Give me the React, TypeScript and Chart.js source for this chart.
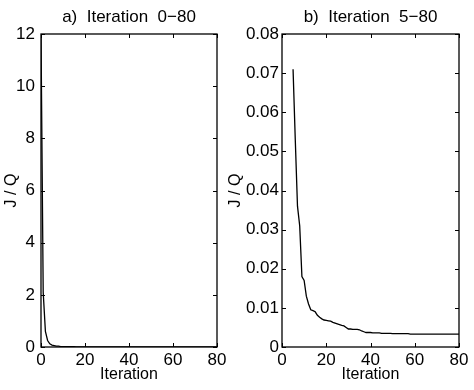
import React, { useEffect, useRef } from "react";
import { Chart, registerables } from "chart.js";

Chart.register(...registerables);

// ---- data ----
const iterations = [
  0, 1, 2, 3, 4, 5, 6, 7, 8, 9, 10, 11, 12, 13, 14, 15, 16, 17, 18, 19, 20,
  21, 22, 23, 24, 25, 26, 27, 28, 29, 30, 31, 32, 33, 34, 35, 36, 37, 38, 39, 40,
  41, 42, 43, 44, 45, 46, 47, 48, 49, 50, 51, 52, 53, 54, 55, 56, 57, 58, 59, 60,
  61, 62, 63, 64, 65, 66, 67, 68, 69, 70, 71, 72, 73, 74, 75, 76, 77, 78, 79, 80,
];
const jOverQ = [
  12, 2.1, 0.6, 0.25, 0.12, 0.071, 0.053, 0.036, 0.031, 0.018, 0.017,
  0.013, 0.011, 0.0095, 0.0093, 0.009, 0.0081, 0.0076, 0.0072, 0.0069, 0.0068,
  0.0067, 0.0066, 0.0063, 0.0061, 0.0059, 0.0057, 0.0055, 0.0054, 0.005, 0.0046,
  0.0046, 0.0045, 0.0045, 0.0045, 0.0044, 0.0041, 0.0039, 0.0037, 0.0037, 0.0037,
  0.0036, 0.0036, 0.0036, 0.0036, 0.0035, 0.0035, 0.0035, 0.0035, 0.0035, 0.0034,
  0.0034, 0.0034, 0.0034, 0.0034, 0.0034, 0.0034, 0.0034, 0.0033, 0.0033, 0.0033,
  0.0033, 0.0033, 0.0033, 0.0033, 0.0033, 0.0033, 0.0033, 0.0033, 0.0033, 0.0033,
  0.0033, 0.0033, 0.0033, 0.0033, 0.0033, 0.0033, 0.0033, 0.0033, 0.0033, 0.0033,
];
const startB = 5;

const xTicks = [0, 20, 40, 60, 80];
const yTicksA = [0, 2, 4, 6, 8, 10, 12];
const yTickLabelsA = ["0", "2", "4", "6", "8", "10", "12"];
const yTicksB = [0, 0.01, 0.02, 0.03, 0.04, 0.05, 0.06, 0.07, 0.08];
const yTickLabelsB = ["0", "0.01", "0.02", "0.03", "0.04", "0.05", "0.06", "0.07", "0.08"];

const titleA = "a)  Iteration  0\u221280";
const titleB = "b)  Iteration  5\u221280";
const xLabel = "Iteration";
const yLabel = "J / Q";

const FONT = "'Liberation Sans', Arial, Helvetica, sans-serif";

const boxPlugin = {
  id: "matlabBox",
  afterDraw(chart: any, _args: any, opts: any) {
    const { ctx, chartArea } = chart;
    const { left, right, top, bottom } = chartArea;
    ctx.save();
    ctx.strokeStyle = "#000";
    ctx.lineWidth = 1.3;
    ctx.strokeRect(left, top, right - left, bottom - top);
    const tl = 4;
    const xs = chart.scales.x;
    const ys = chart.scales.y;
    ctx.beginPath();
    xs.ticks.forEach((t: any) => {
      const px = Math.round(xs.getPixelForValue(t.value)) + 0.5;
      ctx.moveTo(px, bottom);
      ctx.lineTo(px, bottom - tl);
      ctx.moveTo(px, top);
      ctx.lineTo(px, top + tl);
    });
    ys.ticks.forEach((t: any) => {
      const py = Math.round(ys.getPixelForValue(t.value)) + 0.5;
      ctx.moveTo(left, py);
      ctx.lineTo(left + tl, py);
      ctx.moveTo(right, py);
      ctx.lineTo(right - tl, py);
    });
    ctx.lineWidth = 1;
    ctx.stroke();
    // panel title
    ctx.fillStyle = "#000";
    ctx.font = `17px ${FONT}`;
    ctx.textAlign = "center";
    ctx.textBaseline = "middle";
    ctx.fillText(opts.text, (left + right) / 2, 17);
    ctx.restore();
  },
};

type PanelProps = {
  left: number;
  width: number;
  yWidth: number;
  padRight: number;
  xs: number[];
  ys: number[];
  yMax: number;
  yTicks: number[];
  yTickLabels: string[];
  yTickPad: number;
  yTitlePad: number;
  title: string;
};

function Panel(p: PanelProps) {
  const ref = useRef<HTMLCanvasElement | null>(null);
  useEffect(() => {
    if (!ref.current) return;
    const chart = new Chart(ref.current, {
      type: "line",
      data: {
        datasets: [
          {
            data: p.xs.map((x, i) => ({ x, y: p.ys[i] })),
            borderColor: "#000",
            borderWidth: 1.3,
            pointRadius: 0,
            tension: 0,
            fill: false,
          },
        ],
      },
      options: {
        responsive: false,
        animation: false,
        layout: { padding: { left: 0, right: p.padRight, top: 34, bottom: 0 } },
        plugins: {
          legend: { display: false },
          tooltip: { enabled: false },
          matlabBox: { text: p.title },
        } as any,
        scales: {
          x: {
            type: "linear",
            min: 0,
            max: 80,
            afterBuildTicks: (s: any) => {
              s.ticks = xTicks.map((v) => ({ value: v }));
            },
            afterFit: (s: any) => {
              s.height = 43;
            },
            ticks: {
              color: "#000",
              font: { family: FONT, size: 17 },
              padding: 3,
              maxRotation: 0,
              callback: (v: any) => String(v),
            },
            grid: { display: false, drawTicks: false },
            border: { display: false },
            title: {
              display: true,
              text: xLabel,
              color: "#000",
              font: { family: FONT, size: 16 },
              padding: { top: 0, bottom: 6 },
            },
          },
          y: {
            type: "linear",
            min: 0,
            max: p.yMax,
            afterBuildTicks: (s: any) => {
              s.ticks = p.yTicks.map((v) => ({ value: v }));
            },
            afterFit: (s: any) => {
              s.width = p.yWidth;
            },
            ticks: {
              color: "#000",
              font: { family: FONT, size: 17 },
              padding: p.yTickPad,
              callback: (_v: any, i: number) => p.yTickLabels[i],
            },
            grid: { display: false, drawTicks: false },
            border: { display: false },
            title: {
              display: true,
              text: yLabel,
              color: "#000",
              font: { family: FONT, size: 16 },
              padding: { top: p.yTitlePad, bottom: 0 },
            },
          },
        },
      },
      plugins: [boxPlugin],
    });
    return () => chart.destroy();
  }, []);
  return (
    <canvas
      ref={ref}
      width={p.width}
      height={390}
      style={{ position: "absolute", left: p.left, top: 0, width: p.width, height: 390 }}
    />
  );
}

export default function App() {
  const xsB = iterations.slice(startB);
  const ysB = jOverQ.slice(startB);
  return (
    <div
      style={{
        position: "fixed",
        left: 0,
        top: 0,
        width: 474,
        height: 390,
        background: "#fff",
        overflow: "hidden",
      }}
    >
      <Panel
        left={0}
        width={237}
        yWidth={41}
        padRight={20}
        xs={iterations}
        ys={jOverQ}
        yMax={12}
        yTicks={yTicksA}
        yTickLabels={yTickLabelsA}
        yTickPad={6}
        yTitlePad={2}
        title={titleA}
      />
      <Panel
        left={220}
        width={254}
        yWidth={62}
        padRight={15}
        xs={xsB}
        ys={ysB}
        yMax={0.08}
        yTicks={yTicksB}
        yTickLabels={yTickLabelsB}
        yTickPad={3}
        yTitlePad={6}
        title={titleB}
      />
    </div>
  );
}
